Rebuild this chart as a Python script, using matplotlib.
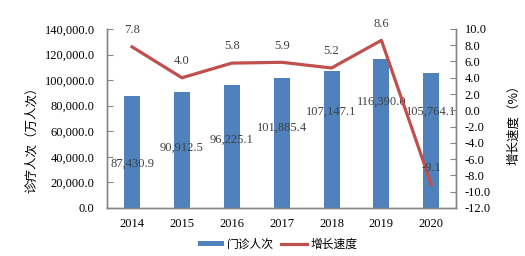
import matplotlib
matplotlib.use("Agg")
import matplotlib.pyplot as plt
from matplotlib.ticker import FuncFormatter

years = ["2014", "2015", "2016", "2017", "2018", "2019", "2020"]
visits = [87430.9, 90912.5, 96225.1, 101885.4, 107147.1, 116390.0, 105764.1]
growth = [7.8, 4.0, 5.8, 5.9, 5.2, 8.6, -9.1]
# where the bar value labels sit (left-axis units), as placed in the source chart
visit_label_y = [34400, 46900, 53200, 62600, 75100, 82900, 75100]

bar_color = "#4F81BD"
line_color = "#C0504D"
axis_color = "#868686"
text_color = "#404040"
num_font = "Liberation Serif"
cjk_font = ["Noto Sans CJK SC", "DejaVu Sans"]

fig = plt.figure(figsize=(5.25, 2.56), dpi=100)
ax = fig.add_axes([0.204, 0.1875, 0.665, 0.6995])
ax2 = ax.twinx()

x = list(range(len(years)))
bars = ax.bar(x, visits, width=0.32, color=bar_color, zorder=2, label="门诊人次")
line, = ax2.plot(x, growth, color=line_color, lw=2.3, zorder=3, label="增长速度")

ax.set_xlim(-0.5, len(years) - 0.5)
ax.set_ylim(0, 140000)
ax.set_yticks(range(0, 140001, 20000))
ax.yaxis.set_major_formatter(FuncFormatter(lambda v, p: f"{v:,.1f}"))
ax2.set_ylim(-12, 10)
ax2.set_yticks(range(-12, 11, 2))
ax2.yaxis.set_major_formatter(FuncFormatter(lambda v, p: f"{v:.1f}"))

ax.set_xticks(x)
ax.set_xticklabels(years)

for a in (ax, ax2):
    a.spines["top"].set_visible(False)
    for s in ("left", "right", "bottom"):
        a.spines[s].set_color(axis_color)
        a.spines[s].set_linewidth(1.0)
    a.tick_params(axis="y", direction="in", length=4, color=axis_color,
                  labelsize=9, labelcolor="black")
    for t in a.get_yticklabels():
        t.set_fontfamily(num_font)
ax.tick_params(axis="x", length=0, labelsize=9, pad=7)
for t in ax.get_xticklabels():
    t.set_fontfamily(num_font)
ax.tick_params(axis="y", pad=9)
ax2.tick_params(axis="y", pad=6)

# line axis drawn over the bars
ax2.set_zorder(ax.get_zorder() + 1)
ax2.patch.set_visible(False)

for xi, v, ly in zip(x, visits, visit_label_y):
    ax.text(xi, ly, f"{v:,.1f}", ha="center", va="center", fontsize=9,
            family=num_font, color=text_color, zorder=4)
for xi, g in zip(x, growth):
    ax2.annotate(f"{g:.1f}", (xi, g), xytext=(0, 12), textcoords="offset points",
                 ha="center", va="center", fontsize=9, family=num_font,
                 color=text_color)

ax.set_ylabel("诊疗人次（万人次）", family=cjk_font, fontsize=9)
ax.yaxis.set_label_coords(-0.198, 0.40)
ax2.set_ylabel("增长速度（%）", family=cjk_font, fontsize=9, rotation=90)
ax2.yaxis.set_label_coords(1.146, 0.48)

leg = fig.legend([bars, line], ["门诊人次", "增长速度"], loc="center",
                 bbox_to_anchor=(0.529, 0.045), ncol=2, frameon=False,
                 prop={"family": cjk_font, "size": 8.5}, handlelength=2.2,
                 handletextpad=0.3, columnspacing=0.6)
for h in leg.legend_handles:
    try:
        h.set_height(3.5)
        h.set_y(1.5)
    except AttributeError:
        pass

fig.savefig("out.png", dpi=100)
